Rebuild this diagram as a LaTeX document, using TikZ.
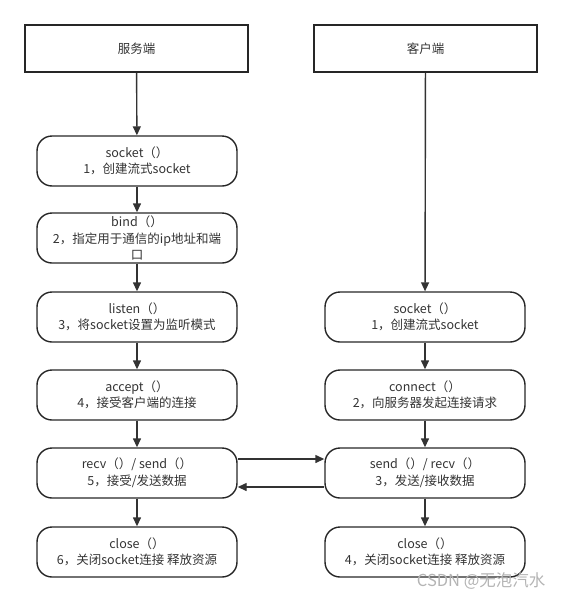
\documentclass[tikz,border=0pt]{standalone}
\usepackage{fontspec}
\usepackage{xcolor}
\newfontfamily\cjk{Noto Sans CJK SC}
\usetikzlibrary{arrows.meta}

\begin{document}
\begin{tikzpicture}[x=1pt,y=-1pt,font=\cjk\fontsize{12.5}{16.5}\selectfont,
  headnode/.style={draw=black!85,line width=1.8pt,minimum width=223pt,minimum height=47pt,text=black!80},
  procnode/.style={draw=black!85,line width=1.4pt,rounded corners=15pt,minimum width=200pt,minimum height=50pt,align=center,inner sep=0pt,text=black!80},
  myarrow/.style={draw=black!80,line width=1.4pt,-{Triangle[length=9pt,width=8pt]}}]
\useasboundingbox (0,0) rectangle (562,600);
\definecolor{markgray}{HTML}{B4B4B4}
% server side
\node [headnode] (server) at (136.5,48.5) {服务端};
\node [procnode] (ssocket) at (137,161) {socket（）\\1，创建流式socket};
\node [procnode] (sbind) at (137,238) {bind（）\\2，指定用于通信的ip地址和端\\口};
\node [procnode] (slisten) at (137,317) {listen（）\\3，将socket设置为监听模式};
\node [procnode] (saccept) at (137,395) {accept（）\\4，接受客户端的连接};
\node [procnode] (srecv) at (137,473) {recv（）/ send（）\\5，接受/发送数据};
\node [procnode] (sclose) at (137,552) {close（）\\6，关闭socket连接 释放资源};
% client side
\node [headnode] (client) at (425.5,48.5) {客户端};
\node [procnode] (csocket) at (425,317) {socket（）\\1，创建流式socket};
\node [procnode] (cconnect) at (425,395) {connect（）\\2，向服务器发起连接请求};
\node [procnode] (csend) at (425,473) {send（）/ recv（）\\3，发送/接收数据};
\node [procnode] (cclose) at (425,552) {close（）\\4，关闭socket连接 释放资源};
% arrows
\foreach \from/\to in {server/ssocket,ssocket/sbind,sbind/slisten,slisten/saccept,saccept/srecv,srecv/sclose,
  client/csocket,csocket/cconnect,cconnect/csend,csend/cclose}
  {\draw [myarrow] (\from) -- (\to);}
\draw [myarrow] ([yshift=14pt]srecv.east) -- ([yshift=14pt]csend.west);
\draw [myarrow] ([yshift=-14pt]csend.west) -- ([yshift=-14pt]srecv.east);
\node [anchor=east,text=markgray,font=\cjk\fontsize{16.5}{18}\selectfont] (mark) at (549,581) {CSDN @无泡汽水};
\end{tikzpicture}
\end{document}
